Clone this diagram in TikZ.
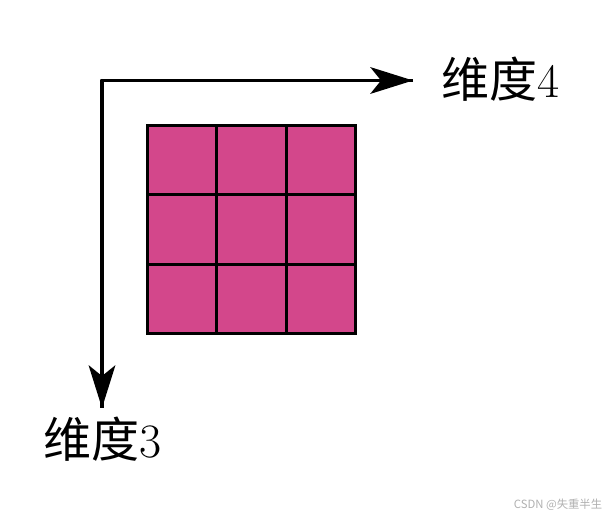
\documentclass[tikz,border=0pt]{standalone}
\usepackage{fontspec}
\newfontfamily\cjk{Noto Sans CJK SC}
\usetikzlibrary{arrows.meta}
\definecolor{cellc}{HTML}{D3478B}
\definecolor{wm}{HTML}{B0B0B0}
\begin{document}
\begin{tikzpicture}[x=0.75pt,y=-0.75pt,
  cellbox/.style={draw=black,line width=2.4pt,fill=cellc,minimum size=52pt,inner sep=0pt,outer sep=0pt},
  axis/.style={line width=2.3pt,line cap=round,-{Stealth[length=32pt,width=20pt,inset=8pt]}},
  lbl/.style={font=\fontsize{36}{36}\selectfont, inner sep=0pt}]
\useasboundingbox (0,0) rectangle (610,517);
% grid
\foreach \r in {0,1,2}{
  \foreach \c in {0,1,2}{
    \node[cellbox] (c\r\c) at ({182+69.5*\c},{160+69.5*\r}) {};
  }
}
\coordinate (o) at (102,80.5);
\coordinate (h) at (413,80.5);
\coordinate (v) at (102,408);
\draw[line width=2.3pt,line join=round] (h) -- (o) -- (v);
\draw[axis] (o) -- (h);
\draw[axis] (o) -- (v);
\node[lbl,anchor=west] (l4) at (441,79) {\cjk 维度\rmfamily 4};
\node[lbl] (l3) at (103,439) {\cjk 维度\rmfamily 3};
\node[font=\fontsize{8.5}{8.5}\selectfont\cjk,text=wm,inner sep=0pt] (w) at (558,505) {CSDN @失重半生};
\end{tikzpicture}
\end{document}
